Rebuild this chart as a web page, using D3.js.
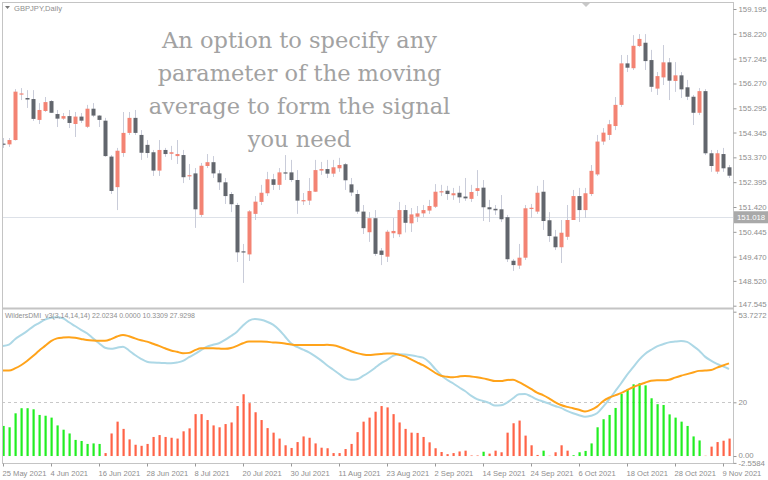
<!DOCTYPE html>
<html><head><meta charset="utf-8">
<script src="https://cdn.jsdelivr.net/npm/d3@7"></script>
<style>body{margin:0;background:#fff;} svg{display:block;}</style>
</head><body>
<svg id="c" width="768" height="480"></svg>
<script>
const symbolLabel = "GBPJPY,Daily";
const headline = ["An option to specify any", "parameter of the moving", "average to form the signal", "you need"];
const indicatorTitle = "WildersDMI_v3(3,14,14,14) 22.0234 0.0000 10.3309 27.9298";

const openP = [153.91,153.88,154.05,155.86,155.70,155.66,154.84,155.19,155.58,155.07,
154.89,154.99,154.68,154.97,154.57,155.28,155.01,154.81,153.40,152.20,
153.54,154.33,154.92,154.25,153.86,153.57,152.85,153.66,153.51,153.42,
153.46,152.64,152.74,151.11,153.03,153.18,152.74,152.39,151.93,151.50,
149.68,149.56,151.15,151.62,151.96,152.51,152.29,152.78,152.78,152.48,
151.68,151.67,152.02,152.85,152.91,152.73,152.94,153.10,152.31,151.93,
151.24,150.43,150.98,149.71,149.47,150.39,150.35,151.30,150.78,151.04,
151.17,151.28,151.43,152.02,152.06,151.88,151.98,151.83,151.74,152.05,
152.18,151.41,151.35,151.33,151.02,149.31,149.12,149.43,151.37,151.24,
152.02,150.90,150.26,149.84,150.25,150.91,151.85,151.30,151.93,152.70,
153.99,154.25,154.60,155.43,157.06,156.87,157.74,157.87,157.19,156.07,
156.51,157.10,156.37,156.59,156.12,155.75,155.12,155.97,153.53,152.81,
153.50,152.98];
const highP = [154.13,154.13,156.05,156.09,156.01,156.01,155.50,155.74,155.62,155.23,
155.11,155.23,155.15,155.11,155.43,155.50,155.03,154.92,153.46,153.74,
155.15,155.15,155.23,154.44,154.05,153.66,154.05,153.74,153.82,154.05,
153.66,153.11,152.95,153.15,153.50,153.42,152.87,152.56,152.01,151.58,
149.97,151.30,151.85,152.29,152.80,152.72,152.95,153.46,153.27,152.87,
151.97,152.56,153.27,153.19,153.27,153.27,153.35,153.15,152.56,152.09,
151.50,151.22,151.30,149.81,150.52,150.99,151.62,151.50,151.38,151.46,
151.50,151.70,152.32,152.29,152.25,152.17,152.25,152.56,152.29,152.87,
152.48,151.70,151.50,151.89,151.11,149.38,149.97,151.50,151.54,152.25,
152.48,151.22,150.52,150.91,151.50,152.09,152.17,152.17,153.07,154.25,
154.52,154.84,155.74,157.39,157.39,158.17,158.21,158.21,157.59,156.72,
157.78,157.27,157.11,156.72,156.41,155.82,156.09,156.05,153.66,153.66,
153.74,153.07];
const lowP = [153.74,153.78,154.03,155.62,155.31,154.80,154.68,155.15,155.11,154.56,
154.84,154.52,154.17,154.72,154.52,154.95,154.56,153.39,151.93,151.30,
153.39,154.25,154.25,153.27,153.35,152.64,152.64,153.39,153.27,153.11,
152.36,152.48,150.60,151.03,152.95,152.56,152.09,151.54,151.22,149.26,
148.44,149.30,150.91,151.50,151.85,152.09,152.09,152.48,152.40,151.15,
151.50,151.50,152.01,152.68,152.56,152.60,152.80,152.09,151.85,151.15,
150.36,150.05,149.50,149.14,149.26,150.20,150.24,150.42,150.44,150.83,
151.03,151.15,151.38,151.85,151.70,151.70,151.58,151.66,151.62,151.85,
150.87,150.83,151.11,150.83,149.26,148.91,148.99,149.34,150.99,151.15,
150.52,150.05,149.73,149.22,150.13,150.91,150.83,150.99,151.85,152.64,
153.86,154.05,154.44,155.35,156.72,156.80,157.70,156.80,155.94,155.82,
156.21,155.62,155.94,155.70,155.62,154.64,155.03,153.46,152.80,152.72,
152.80,152.56];
const closeP = [153.89,154.05,155.95,155.88,155.64,154.88,155.23,155.54,155.12,154.89,
154.99,154.72,154.97,154.81,155.28,155.01,154.84,153.42,152.05,153.63,
154.33,154.92,154.33,153.55,153.54,152.85,153.66,153.50,153.57,153.50,
152.59,152.67,151.33,153.04,153.18,152.74,152.39,151.85,151.53,149.64,
149.64,151.25,151.63,151.98,152.51,152.29,152.78,152.75,152.48,151.67,
151.69,152.05,152.87,152.91,152.73,152.98,153.07,152.47,151.99,151.24,
150.59,150.98,149.58,149.54,150.45,150.48,151.30,150.80,151.13,151.17,
151.30,151.46,152.02,152.04,151.93,151.96,151.80,151.76,152.01,152.16,
151.41,151.33,151.29,150.94,149.37,149.14,149.43,151.37,151.39,151.98,
150.87,150.28,149.84,150.41,150.91,151.85,151.30,151.96,152.84,153.99,
154.34,154.67,155.43,157.06,156.89,157.75,158.02,157.15,156.14,156.56,
157.10,156.38,156.59,156.04,155.75,155.12,155.97,153.53,153.03,153.53,
152.94,152.65];

// histogram: positive = green, negative = red (height = absolute value)
const histValues = [11.2,10.7,15.9,17.8,17.8,17.4,15.3,15.0,14.3,11.4,
9.8,8.4,6.0,5.6,4.5,4.7,4.5,-1.1,-8.4,-12.8,
-10.1,-6.2,-4.2,-3.8,-4.5,-7.1,-7.8,-7.1,-6.8,-6.5,
-9.2,-10.3,-15.6,-15.6,-13.4,-11.4,-10.7,-11.9,-12.5,-18.6,
-23.0,-19.7,-16.3,-13.4,-10.4,-8.7,-6.5,-4.0,-3.0,-5.2,
-7.3,-6.8,-4.7,-3.1,-2.9,-1.1,-1.1,-2.6,-4.5,-8.9,
-12.8,-14.3,-16.5,-18.6,-18.1,-15.6,-12.5,-10.1,-8.7,-8.6,
-7.1,-5.1,-2.9,-1.5,-0.7,-1.1,-1.7,-2.0,-0.2,-0.2,
1.6,-0.9,-2.0,-1.4,-8.7,-12.2,-13.2,-7.6,-4.0,-0.4,
2.0,-0.1,-1.4,-4.0,-2.0,0.3,1.4,1.9,4.7,10.7,
13.7,15.3,17.9,23.1,24.8,26.7,27.1,26.3,21.5,19.3,
19.0,15.5,14.3,12.8,11.2,7.3,5.8,-0.1,-3.5,-5.2,
-5.7,-6.5];
const blueLine = [41.0,41.5,43.5,45.0,46.5,48.2,49.5,50.8,51.5,51.7,
51.3,49.8,48.4,47.0,45.7,43.8,42.0,40.3,39.9,40.3,
40.7,39.3,37.6,36.2,35.1,34.8,34.7,34.6,34.5,34.8,
35.4,36.8,38.0,39.4,40.7,41.4,42.0,43.2,44.7,46.3,
48.6,50.4,51.0,50.7,50.0,48.9,47.0,44.5,42.0,40.6,
39.6,38.6,37.2,35.6,33.8,32.2,30.6,29.0,28.4,28.6,
29.8,31.2,32.8,34.5,35.8,37.3,37.9,37.8,37.5,37.1,
36.6,35.0,32.5,30.2,28.4,27.1,25.6,24.2,22.5,21.2,
20.5,19.8,18.8,18.9,19.9,21.5,23.0,23.1,22.2,21.1,
20.3,19.5,18.6,17.9,16.8,15.9,15.2,14.6,15.0,15.9,
18.3,21.0,24.0,27.0,30.2,33.0,35.8,38.0,39.5,40.8,
41.6,42.3,42.6,42.8,42.5,41.0,39.3,37.0,35.5,34.3,
33.4,32.4];
const orangeLine = [31.8,31.8,32.6,33.8,35.4,37.2,39.2,41.0,42.8,43.8,
44.1,44.2,44.0,43.6,43.2,43.0,42.9,42.9,43.5,44.5,
45.1,44.6,43.8,43.1,42.6,41.8,41.0,40.1,39.3,38.8,
38.3,38.4,39.4,40.1,40.1,40.1,40.0,39.9,40.2,41.0,
42.0,42.6,42.6,42.6,42.5,42.3,42.2,41.9,41.5,41.3,
41.3,41.3,41.3,41.3,41.4,41.2,40.7,39.9,39.0,38.3,
37.8,37.6,37.8,38.0,38.2,38.2,37.7,37.1,36.0,34.9,
33.8,32.5,31.0,29.9,29.5,29.3,29.6,29.8,29.6,29.3,
28.9,28.4,27.9,27.9,28.3,28.4,27.5,26.3,25.0,23.6,
22.7,21.5,20.1,19.0,18.3,17.8,17.2,16.6,17.2,18.4,
20.4,21.7,22.6,23.4,24.5,25.6,26.5,27.3,28.0,28.2,
28.2,28.4,29.2,29.9,30.5,31.1,31.7,31.8,32.0,32.9,
33.7,34.5];

const priceTicks = [159.195,158.220,157.245,156.270,155.295,154.345,153.370,152.395,151.420,150.445,149.470,148.520,147.545];
const currentPrice = 151.018;
const indTickValues = [53.7272, 20, 0, -2.5584];
const indTickLabels = ["53.7272", "20", "0.00", "-2.5584"];
const indLevel = 20;
const dateLabels = ["25 May 2021","4 Jun 2021","16 Jun 2021","28 Jun 2021","8 Jul 2021","20 Jul 2021","30 Jul 2021","11 Aug 2021","23 Aug 2021","2 Sep 2021","14 Sep 2021","24 Sep 2021","6 Oct 2021","18 Oct 2021","28 Oct 2021","9 Nov 2021"];
const dateLabelBars = [0,8,16,24,32,40,48,56,64,72,80,88,96,104,112,120];

const svg = d3.select("#c");
const L = 2, R = 733, T = 2, MB = 308, IB = 463;
const n = openP.length;
const x = d3.scaleLinear().domain([0, n - 1]).range([3, 729]);
const yP = d3.scaleLinear().domain([147.545, 159.195]).range([305.7, 9]);
const yI = d3.scaleLinear().domain([-2.5584, 53.7272]).range([462.9, 311.7]);

const AX = "#8e8e8e", BORDER = "#c4c4c4";
const font = "'Liberation Sans', Arial, sans-serif";

svg.append("rect").attr("width", 768).attr("height", 480).attr("fill", "#fff");

const defs = svg.append("defs");
defs.append("clipPath").attr("id", "cm").append("rect").attr("x", L).attr("y", T).attr("width", R - L).attr("height", MB - T);
defs.append("clipPath").attr("id", "ci").append("rect").attr("x", L).attr("y", MB).attr("width", R - L).attr("height", IB - MB);

// Headline text
const hl = svg.append("g").attr("font-family", "'DejaVu Serif', serif").attr("font-size", 22.5).attr("fill", "#a2a2a2").attr("text-anchor", "middle");
headline.forEach((t, i) => hl.append("text").attr("x", 299.5).attr("y", 48.3 + i * 33).text(t));

// current price line
const main = svg.append("g").attr("clip-path", "url(#cm)");
main.append("line").attr("x1", L).attr("x2", R).attr("y1", Math.round(yP(currentPrice)) + 0.5).attr("y2", Math.round(yP(currentPrice)) + 0.5)
  .attr("stroke", "#dde1e8").attr("stroke-width", 1);

// candles
const idx = d3.range(n);
main.selectAll("line.w").data(idx).join("line").attr("class", "w")
  .attr("x1", i => Math.round(x(i)) + 0.5).attr("x2", i => Math.round(x(i)) + 0.5)
  .attr("y1", i => yP(highP[i])).attr("y2", i => yP(lowP[i]))
  .attr("stroke", "#c9ccd9").attr("stroke-width", 1);
main.selectAll("rect.b").data(idx).join("rect").attr("class", "b")
  .attr("x", i => Math.round(x(i)) - 1.5).attr("width", 4)
  .attr("y", i => yP(Math.max(openP[i], closeP[i])))
  .attr("height", i => Math.max(1.2, Math.abs(yP(openP[i]) - yP(closeP[i]))))
  .attr("fill", i => closeP[i] >= openP[i] ? "#f38373" : "#62666d");

// indicator
const ind = svg.append("g").attr("clip-path", "url(#ci)");
ind.append("line").attr("x1", L).attr("x2", R).attr("y1", Math.round(yI(indLevel)) + 0.5).attr("y2", Math.round(yI(indLevel)) + 0.5)
  .attr("stroke", "#c8c8c8").attr("stroke-dasharray", "3,3");
ind.selectAll("rect.h").data(idx).join("rect").attr("class", "h")
  .attr("x", i => Math.round(x(i)) - 0.5).attr("width", 2.2)
  .attr("y", i => yI(Math.abs(histValues[i])))
  .attr("height", i => yI(0) - yI(Math.abs(histValues[i])))
  .attr("fill", i => histValues[i] >= 0 ? "#22ee22" : "#ff6347");
const ln = d3.line().x((d, i) => x(i)).y(d => yI(d)).curve(d3.curveMonotoneX);
ind.append("path").datum(blueLine).attr("d", ln).attr("fill", "none").attr("stroke", "#add8e6").attr("stroke-width", 2);
ind.append("path").datum(orangeLine).attr("d", ln).attr("fill", "none").attr("stroke", "#ffa31a").attr("stroke-width", 2);

// frames
svg.append("rect").attr("x", L + 0.5).attr("y", T + 0.5).attr("width", R - L).attr("height", IB - T).attr("fill", "none").attr("stroke", BORDER);
svg.append("line").attr("x1", L).attr("x2", R).attr("y1", MB + 0.5).attr("y2", MB + 0.5).attr("stroke", BORDER).attr("stroke-width", 2);

// labels
svg.append("path").attr("d", "M5,6 L10,6 L7.5,9 Z").attr("fill", "#777");
svg.append("text").attr("x", 14).attr("y", 11).attr("font-family", font).attr("font-size", 7.6).attr("fill", AX).text(symbolLabel);
svg.append("path").attr("d", "M582,3 L590,3 L586,7 Z").attr("fill", "#c8c8c8");
svg.append("text").attr("x", 5).attr("y", 318).attr("font-family", font).attr("font-size", 7.2).attr("fill", AX)
  .attr("textLength", 190).attr("lengthAdjust", "spacingAndGlyphs").text(indicatorTitle);

// price axis
const pAxis = svg.append("g").attr("transform", `translate(${R + 0.5},0)`)
  .call(d3.axisRight(yP).tickValues(priceTicks).tickFormat(d3.format(".3f")).tickSize(3).tickPadding(2));
pAxis.select(".domain").remove();
pAxis.selectAll("line").attr("stroke", "#999");
pAxis.selectAll("text").attr("font-family", font).attr("font-size", 7.8).attr("fill", AX)
  .attr("transform", d => d === 147.545 ? "translate(0,-1.5)" : null);

// current price tag
const cy = yP(currentPrice);
svg.append("rect").attr("x", R + 1).attr("y", cy - 6).attr("width", 34).attr("height", 12).attr("fill", "#a9a9a9");
svg.append("text").attr("x", R + 4).attr("y", cy + 3).attr("font-family", font).attr("font-size", 7.8).attr("fill", "#fff").text(d3.format(".3f")(currentPrice));

// indicator axis
const iShift = {"53.7272": 3.5, "20": 0, "0.00": -1.5, "-2.5584": 0.5};
const iAxis = svg.append("g").attr("transform", `translate(${R + 0.5},0)`)
  .call(d3.axisRight(yI).tickValues(indTickValues).tickFormat((d, i) => indTickLabels[i]).tickSize(3).tickPadding(2));
iAxis.select(".domain").remove();
iAxis.selectAll("line").attr("stroke", "#999");
iAxis.selectAll("text").attr("font-family", font).attr("font-size", 7.8).attr("fill", AX)
  .attr("transform", (d, i) => `translate(0,${iShift[indTickLabels[i]]})`);

// date axis
const dAxis = svg.append("g").attr("transform", `translate(0,${IB + 0.5})`)
  .call(d3.axisBottom(x).tickValues(dateLabelBars).tickFormat((d, i) => dateLabels[i]).tickSize(3).tickPadding(4));
dAxis.select(".domain").remove();
dAxis.selectAll("line").attr("stroke", "#999");
dAxis.selectAll("text").attr("font-family", font).attr("font-size", 7.6).attr("fill", AX).attr("text-anchor", "start").attr("dx", -1);
</script>
</body></html>
